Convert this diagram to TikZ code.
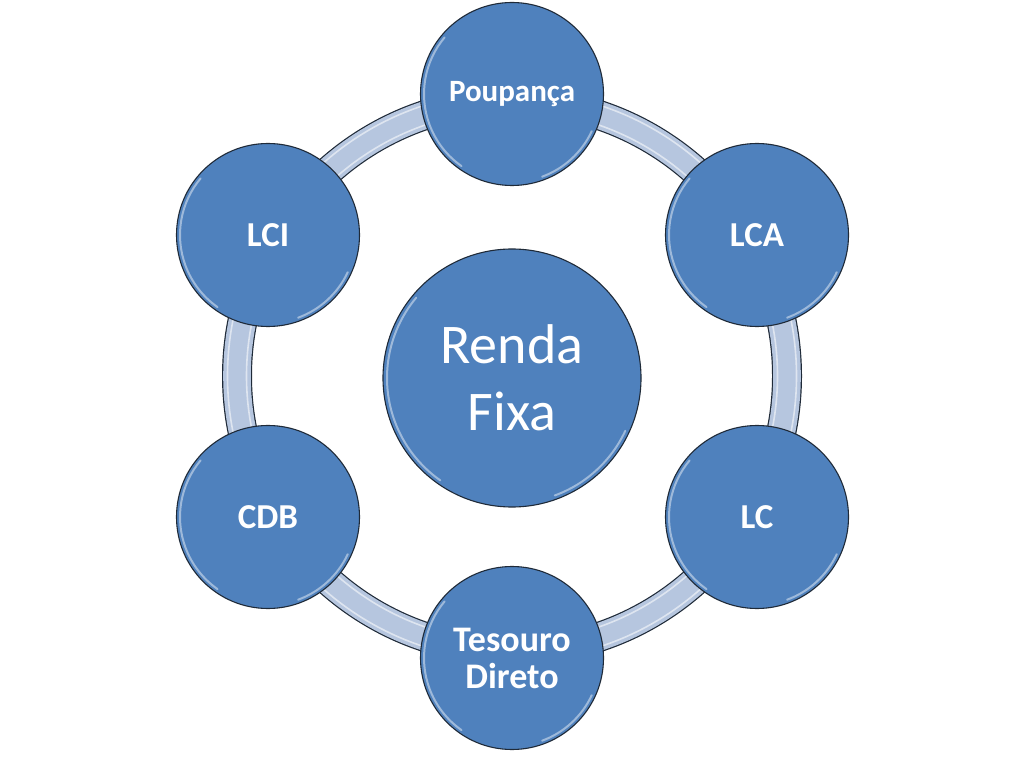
\documentclass[tikz,border=0pt]{standalone}
\usepackage{fontspec}
\setmainfont{Carlito}
\definecolor{nodeblue}{HTML}{4F81BD}
\definecolor{ringfill}{HTML}{B6C6DF}
\definecolor{edgecol}{HTML}{1F2A38}
\begin{document}
\begin{tikzpicture}[x=1pt,y=1pt,
  bubble/.style={circle, draw=edgecol, line width=1.1pt, fill=nodeblue, text=white,
    minimum size=183pt, inner sep=0pt, align=center,
    font=\fontsize{35}{37}\selectfont\bfseries},
  hub/.style={circle, draw=edgecol, line width=1.1pt, fill=nodeblue, text=white,
    minimum size=258pt, inner sep=0pt, align=center,
    font=\fontsize{56}{67}\selectfont},
  shine/.style={white, opacity=0.45, line width=2pt, line cap=round}]
\useasboundingbox (0,0) rectangle (1024,758);
% ring
\coordinate (rc) at (512,382);
\draw[edgecol, line width=30pt] (rc) circle (275);
\draw[ringfill, line width=27.6pt] (rc) circle (275);
\draw[white, opacity=0.55, line width=1.6pt] (rc) circle (265.5);
\draw[white, opacity=0.55, line width=1.6pt] (rc) circle (284.5);
% nodes
\node[hub] (c) at (512,380) {Renda\\Fixa};
\node[bubble, font=\fontsize{31}{33}\selectfont\bfseries] (p) at (512,664) {Poupança};
\node[bubble] (lca) at (757,523) {LCA};
\node[bubble] (lc) at (757,241) {LC};
\node[bubble, font=\fontsize{36}{37}\selectfont\bfseries] (td) at (512,100) {Tesouro\\Direto};
\node[bubble] (cdb) at (268,241) {CDB};
\node[bubble] (lci) at (268,523) {LCI};
% bevel highlights
\foreach \n in {p,lca,lc,td,cdb,lci}{
  \draw[shine] ([shift={(140:88)}]\n.center) arc (140:235:88);
  \draw[shine] ([shift={(290:88)}]\n.center) arc (290:335:88);
}
\draw[shine] ([shift={(140:125)}]c.center) arc (140:235:125);
\draw[shine] ([shift={(290:125)}]c.center) arc (290:335:125);
\end{tikzpicture}
\end{document}
